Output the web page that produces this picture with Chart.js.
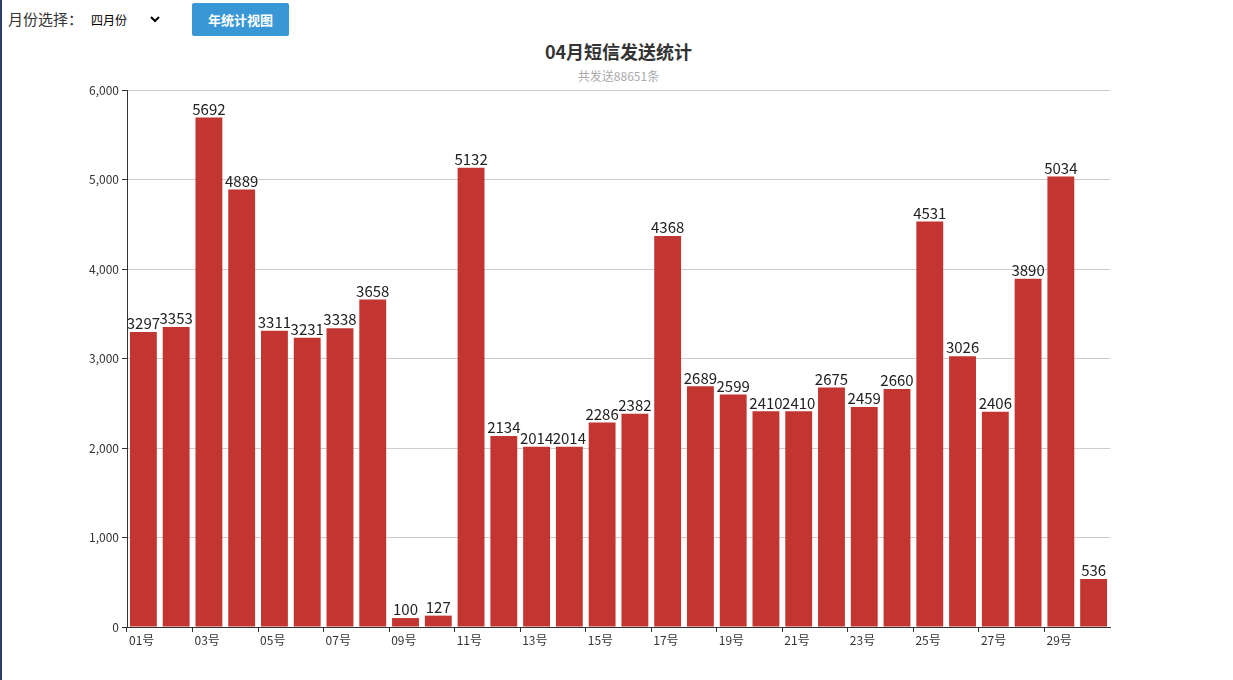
<!DOCTYPE html>
<html>
<head>
<meta charset="utf-8">
<script src="https://cdn.jsdelivr.net/npm/chart.js@4/dist/chart.umd.min.js"></script>
<style>
  html, body { margin: 0; padding: 0; background: #fff; }
  body { width: 1233px; height: 680px; position: relative; overflow: hidden;
         font-family: "Microsoft YaHei", "Noto Sans CJK SC", sans-serif; border-left: 2px solid #2c3e6b; box-sizing: border-box; }
  .bar-top { position: absolute; left: 6px; top: 8px; font-size: 15px; color: #333; }
  .bar-top select { border: none; background: #fff; font-size: 12px; margin-left: 4px; width: 76px; font-family: inherit; }
  .btn { position: absolute; left: 190px; top: 3px; width: 97px; height: 33px; background: #3a97d5; color: #fff;
         border-radius: 2px; font-size: 13px; font-weight: bold; line-height: 33px; text-align: center; }
  .title { position: absolute; left: 0; width: 1233px; top: 38px; text-align: center; font-size: 18px; font-weight: bold; color: #333; }
  .sub { position: absolute; left: 0; width: 1233px; top: 67px; text-align: center; font-size: 12px; color: #aaa; }
  canvas { position: absolute; left: 0; top: 0; }
</style>
</head>
<body>
<div class="bar-top">月份选择：<select><option>四月份</option></select></div>
<div class="btn">年统计视图</div>
<div class="title">04月短信发送统计</div>
<div class="sub">共发送88651条</div>
<div style="position:absolute;left:0;top:0;width:1233px;height:680px"><canvas id="c"></canvas></div>
<script>
// ==========================
// DATA
// ==========================
const days = ["01号","02号","03号","04号","05号","06号","07号","08号","09号","10号",
    "11号","12号","13号","14号","15号","16号","17号","18号","19号","20号",
    "21号","22号","23号","24号","25号","26号","27号","28号","29号","30号"];
const counts = [3297, 3353, 5692, 4889, 3311, 3231, 3338, 3658, 100, 127,
    5132, 2134, 2014, 2014, 2286, 2382, 4368, 2689, 2599, 2410,
    2410, 2675, 2459, 2660, 4531, 3026, 2406, 3890, 5034, 536];
const yTicks = [0, 1000, 2000, 3000, 4000, 5000, 6000];

// ==========================
// PLUGINS
// ==========================
const valueLabels = {
    id: "valueLabels",
    afterDatasetsDraw(chart) {
        const c = chart.ctx;
        const meta = chart.getDatasetMeta(0);
        c.save();
        c.font = '15px "Microsoft YaHei", "Noto Sans CJK SC", sans-serif';
        c.fillStyle = "#222";
        c.textAlign = "center";
        c.textBaseline = "bottom";
        meta.data.forEach((bar, i) => c.fillText(counts[i], bar.x, bar.y - 1));
        c.restore();
    }
};

const dayLabels = {
    id: "dayLabels",
    afterDraw(chart) {
        const x = chart.scales.x;
        const c = chart.ctx;
        const half = (x.getPixelForValue(1) - x.getPixelForValue(0)) / 2;
        c.save();
        c.font = '12px "Microsoft YaHei", "Noto Sans CJK SC", sans-serif';
        c.fillStyle = "#333";
        c.textAlign = "left";
        c.textBaseline = "top";
        days.forEach((d, i) => {
            if (i % 2 === 0) c.fillText(d, x.getPixelForValue(i) - half + 2, x.bottom - 18);
        });
        c.restore();
    }
};

// ==========================
// CHART
// ==========================
new Chart(document.getElementById("c"), {
    type: "bar",
    data: {
        labels: days,
        datasets: [{
            data: counts,
            backgroundColor: "#c23531",
            barPercentage: 0.82,
            categoryPercentage: 1
        }]
    },
    options: {
        responsive: true,
        maintainAspectRatio: false,
        animation: false,
        layout: { padding: { left: 80, right: 125, top: 90, bottom: 28 } },
        plugins: { legend: { display: false }, tooltip: { enabled: false } },
        scales: {
            x: {
                afterFit: s => { s.height = 25; },
                grid: {
                    offset: true,
                    drawOnChartArea: false,
                    tickLength: 5,
                    color: ctx => (ctx.index % 2 === 0 || ctx.index === days.length) ? "#333" : "rgba(0,0,0,0)"
                },
                border: { color: "#333" },
                ticks: { display: false, autoSkip: false }
            },
            y: {
                min: 0,
                max: 6000,
                afterFit: s => { s.width = 45; },
                afterBuildTicks: s => { s.ticks = yTicks.map(v => ({ value: v })); },
                grid: { color: "#ccc", tickLength: 5, tickColor: "#333" },
                border: { color: "#333" },
                ticks: {
                    color: "#333",
                    font: { size: 12, family: '"Microsoft YaHei", "Noto Sans CJK SC", sans-serif' },
                    callback: v => v.toLocaleString("en-US")
                }
            }
        }
    },
    plugins: [valueLabels, dayLabels]
});
</script>
</body>
</html>
